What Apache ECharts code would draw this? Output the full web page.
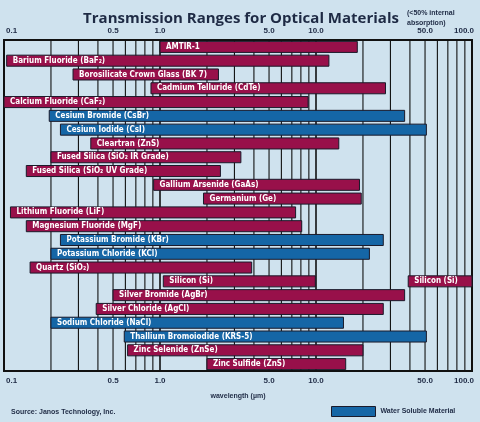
<!DOCTYPE html><html><head><meta charset="utf-8">
<script src="https://cdn.jsdelivr.net/npm/echarts@6/dist/echarts.min.js"></script>
<style>html,body{margin:0;background:#cfe2ee}#c{width:480px;height:422px}</style></head><body><div id="c"></div>
<script>
const materials=["AMTIR-1","Barium Fluoride (BaF₂)","Borosilicate Crown Glass (BK 7)","Cadmium Telluride (CdTe)","Calcium Fluoride (CaF₂)","Cesium Bromide (CsBr)","Cesium Iodide (CsI)","Cleartran (ZnS)","Fused Silica (SiO₂ IR Grade)","Fused Silica (SiO₂ UV Grade)","Gallium Arsenide (GaAs)","Germanium (Ge)","Lithium Fluoride (LiF)","Magnesium Fluoride (MgF)","Potassium Bromide (KBr)","Potassium Chloride (KCl)","Quartz (SiO₂)","Silicon (Si)","Silver Bromide (AgBr)","Silver Chloride (AgCl)","Sodium Chloride (NaCl)","Thallium Bromoiodide (KRS-5)","Zinc Selenide (ZnSe)","Zinc Sulfide (ZnS)"];
const rangeStart=[1.0,0.104,0.277,0.875,0.1,0.195,0.23,0.36,0.2,0.139,0.91,1.9,0.11,0.139,0.23,0.2,0.147,1.05,0.5,0.39,0.2,0.59,0.62,2.0];
const rangeEnd=[18.4,12.1,2.37,27.9,8.9,37,51,14,3.3,2.44,19,19.5,7.4,8.1,27,22,3.87,9.9,37,27,15,51,20,15.5];
const waterSoluble=[0,0,0,0,0,1,1,0,0,0,0,0,0,0,1,1,0,0,0,0,1,1,0,0];
const extraRow=["Silicon (Si)"];const extraStart=[39];const extraEnd=[100];
const gridTicks=[0.1,0.2,0.3,0.4,0.5,0.6,0.7,0.8,0.9,1,2,3,4,5,6,7,8,9,10,20,30,40,50,60,70,80,90,100];
const labelTicks=[0.1,0.5,1,5,10,50,100];
const RED='#98104a',BLUE='#1566a6',INK='#1e2a44';
function rows(flag){const d=[];materials.forEach((m,i)=>{if(waterSoluble[i]===flag)d.push([i,rangeStart[i],rangeEnd[i],m]);});
 if(flag===0)extraRow.forEach((m,k)=>d.push([materials.indexOf(m),extraStart[k],extraEnd[k],m]));return d;}
function render(params,api){const r=api.value(0),a=api.coord([api.value(1),r]),b=api.coord([api.value(2),r]);
 const h=api.size([0,1])[1]*0.8;
 return {type:'group',children:[{type:'rect',shape:{x:a[0],y:a[1]-h/2,width:b[0]-a[0],height:h},style:{fill:api.visual('color'),stroke:'#1a1a2a',lineWidth:1}},
 {type:'text',style:{x:a[0]+6,y:a[1],text:materials[r],fill:'#fff',font:'bold 8px "Liberation Sans Narrow","DejaVu Sans Condensed",sans-serif',verticalAlign:'middle'}}]};}
function renderGrid(params,api){const v=api.value(0),cs=params.coordSys,x=api.coord([v,0])[0];
 const ch=[{type:'line',shape:{x1:x,y1:cs.y,x2:x,y2:cs.y+cs.height},style:{stroke:'#111',lineWidth:(v===1||v===10)?1.6:1.1}}];
 if(labelTicks.includes(v)){const al=v===0.1?'left':(v===100?'right':'center');const xx=v===0.1?x+2:(v===100?x+2:x);
  [cs.y-9,cs.y+cs.height+10].forEach(y=>ch.push({type:'text',style:{x:xx,y:y,text:v.toFixed(1),fill:INK,font:'bold 8px "Liberation Sans",sans-serif',align:al,verticalAlign:'middle'}}));}
 return {type:'group',children:ch};}
const chart=echarts.init(document.getElementById('c'),null,{renderer:'canvas'});
chart.setOption({backgroundColor:'#cfe2ee',animation:false,
 title:[{text:'Transmission Ranges for Optical Materials',left:236,top:6,textAlign:'center',textStyle:{fontSize:15,fontWeight:'bold',color:INK,fontFamily:'Open Sans'}},
  {text:'(<50% internal\nabsorption)',left:402,top:3,textStyle:{fontSize:7,fontWeight:'bold',color:INK,lineHeight:10}},
  {text:'Source: Janos Technology, Inc.',left:6,top:404,textStyle:{fontSize:7,fontWeight:'bold',color:INK}}],
 legend:{data:[{name:'Water Soluble Material',icon:'rect'}],left:326,top:401,itemWidth:44,itemHeight:10,itemGap:6,textStyle:{fontSize:7,fontWeight:'bold',color:INK},
  itemStyle:{borderColor:'#1a1a2a',borderWidth:1}},
 grid:{left:4,right:8,top:40,bottom:51,show:true,borderColor:'#111',borderWidth:2,backgroundColor:'transparent'},
 xAxis:{type:'log',logBase:10,min:0.1,max:100,name:'wavelength (µm)',nameLocation:'middle',nameGap:22,nameTextStyle:{fontSize:7,fontWeight:'bold',color:INK},
  axisLabel:{show:false},axisTick:{show:false},axisLine:{show:false},splitLine:{show:false}},
 yAxis:{type:'category',data:materials,inverse:true,show:false},
 series:[
  {name:'grid',type:'custom',renderItem:renderGrid,data:gridTicks.map(v=>[v]),encode:{x:0},silent:true,clip:false,z:1},
  {name:'Insoluble',type:'custom',renderItem:render,itemStyle:{color:RED},data:rows(0),encode:{x:[1,2],y:0},z:3},
  {name:'Water Soluble Material',type:'custom',renderItem:render,itemStyle:{color:BLUE},data:rows(1),encode:{x:[1,2],y:0},z:3}]});
</script></body></html>
